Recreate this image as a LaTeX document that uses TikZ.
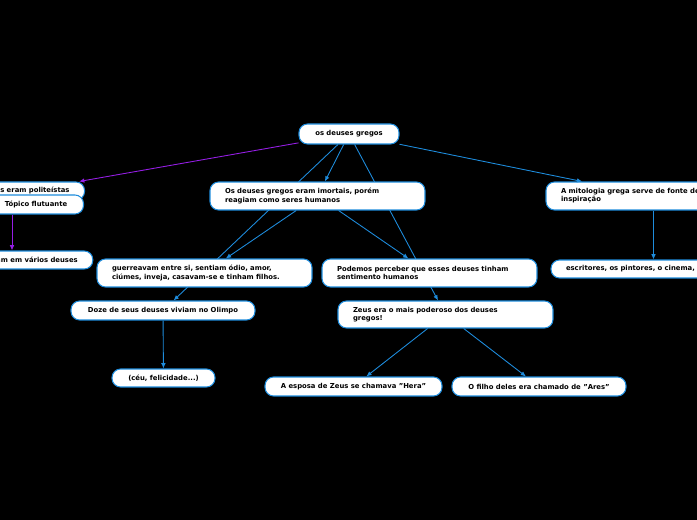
\documentclass[tikz,border=0pt]{standalone}
\usepackage{fontspec}
\setmainfont{DejaVu Sans}
\usetikzlibrary{arrows.meta, backgrounds}
\definecolor{linkblue}{RGB}{30,140,220}
\definecolor{linkpurple}{RGB}{150,30,230}
\tikzset{
  topic/.style={draw=linkblue, fill=white, line width=0.6pt, rounded corners=0.17cm,
    font=\fontsize{3.9}{4.6}\selectfont\bfseries, inner sep=0pt, align=left},
  link/.style={draw=linkblue, line width=0.5pt, -{Latex[length=3pt,width=2.6pt]}},
  plink/.style={link, draw=linkpurple}
}
\begin{document}
\begin{tikzpicture}[x=0.02cm,y=-0.02cm]
\useasboundingbox (0,0) rectangle (697,520);
\clip (0,0) rectangle (697,520);

% Topics
\node[topic, minimum width=2cm, minimum height=0.4cm] (root) at (349,134) {os deuses gregos};
\node[topic, minimum width=4.3cm, minimum height=0.56cm, text width=3.7cm] (imortais) at (317.5,196)
  {Os deuses gregos eram imortais, porém\\reagiam como seres humanos};
\node[topic, minimum width=4.3cm, minimum height=0.56cm, text width=3.7cm] (guerra) at (204.5,273)
  {guerreavam entre si, sentiam ódio, amor,\\ciúmes, inveja, casavam-se e tinham filhos.};
\node[topic, minimum width=4.3cm, minimum height=0.56cm, text width=3.7cm] (podemos) at (429.5,273)
  {Podemos perceber que esses deuses tinham\\sentimento humanos};
\node[topic, minimum width=3.68cm, minimum height=0.38cm] (doze) at (163,310.5) {Doze de seus deuses viviam no Olimpo};
\node[topic, minimum width=2.06cm, minimum height=0.36cm] (ceu) at (163.5,378) {(céu, felicidade...)};
\node[topic, minimum width=4.3cm, minimum height=0.54cm, text width=3.7cm] (zeus) at (445.5,314.5)
  {Zeus era o mais poderoso dos deuses\\gregos!};
\node[topic, minimum width=3.54cm, minimum height=0.38cm] (hera) at (353.5,386.5) {A esposa de Zeus se chamava "Hera"};
\node[topic, minimum width=3.48cm, minimum height=0.38cm] (ares) at (539,386.5) {O filho deles era chamado de "Ares"};
\node[topic, minimum width=4.3cm, minimum height=0.56cm, text width=3.7cm] (mito) at (653.5,196)
  {A mitologia grega serve de fonte de\\inspiração};
\node[topic, minimum width=4.3cm, minimum height=0.36cm, text width=3.7cm] (escr) at (658.5,269)
  {escritores, os pintores, o cinema, ...};
\node[topic, minimum width=2.2cm, minimum height=0.36cm] (polit) at (25,191) {Os gregos eram politeístas\hspace*{0.3cm}};
\node[topic, minimum width=1.9cm, minimum height=0.38cm] (flut) at (36,204.5) {Tópico flutuante};
\node[topic, minimum width=2.5cm, minimum height=0.36cm] (varios) at (26,260) {Acreditavam em vários deuses\hspace*{0.3cm}};

% Connectors
\begin{scope}[on background layer]
\fill[black] (0,0) rectangle (697,520);
\draw[link] (root) -- (doze);
\draw[link] (root) -- (zeus);
\end{scope}
\draw[plink] (root) -- (polit);
\draw[plink] ([xshift=-0.48cm]flut.south) -- ([xshift=-0.48cm]flut.south |- varios.north);
\draw[link] (root) -- (imortais);
\draw[link] (root) -- (mito);
\draw[link] (mito) -- (escr.north -| mito);
\draw[link] (imortais) -- (guerra);
\draw[link] (imortais) -- (podemos);
\draw[link] (doze) -- (ceu);
\draw[link] (zeus) -- (hera);
\draw[link] (zeus) -- (ares);
\end{tikzpicture}
\end{document}
